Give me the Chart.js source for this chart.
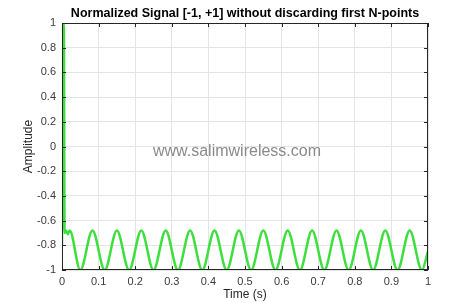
<!DOCTYPE html>
<html>
<head>
<meta charset="utf-8">
<script src="https://cdn.jsdelivr.net/npm/chart.js@4.4.1/dist/chart.umd.min.js"></script>
<style>
  html, body { margin: 0; padding: 0; background: #fff; }
  canvas { display: block; }
</style>
</head>
<body>
<canvas id="signalChart" width="474" height="303"></canvas>
<script>
// values (time in s, amplitude normalized)
const timeS = [0, 0.003, 0.005, 0.007, 0.011, 0.016, 0.021,
  0.05, 0.0833, 0.1167, 0.15, 0.1833, 0.2167, 0.25, 0.2833, 0.3167, 0.35,
  0.3833, 0.4167, 0.45, 0.4833, 0.5167, 0.55, 0.5833, 0.6167, 0.65, 0.6833,
  0.7167, 0.75, 0.7833, 0.8167, 0.85, 0.8833, 0.9167, 0.95, 0.9833, 1];
const amplitude = [-0.8, 1, 1, -0.7, -0.68, -0.71, -0.68,
  -1, -0.68, -1, -0.68, -1, -0.68, -1, -0.68, -1, -0.68,
  -1, -0.68, -1, -0.68, -1, -0.68, -1, -0.68, -1, -0.68,
  -1, -0.68, -1, -0.68, -1, -0.68, -1, -0.68, -1, -0.85];
const xTickLabels = ['0', '0.1', '0.2', '0.3', '0.4', '0.5', '0.6', '0.7', '0.8', '0.9', '1'];
const yTickLabels = ['-1', '-0.8', '-0.6', '-0.4', '-0.2', '0', '0.2', '0.4', '0.6', '0.8', '1'];
const chartTitle = 'Normalized Signal [-1, +1] without discarding first N-points';
const xTitle = 'Time (s)';
const yTitle = 'Amplitude';
const watermark = 'www.salimwireless.com';

const font = '"Liberation Sans", Arial, sans-serif';

// matlab style box, inward ticks, titles and the watermark
const decor = {
  id: 'decor',
  beforeDatasetsDraw(chart) {
    const { ctx } = chart;
    ctx.save();
    ctx.fillStyle = '#8a8a8a';
    ctx.font = '16px ' + font;
    ctx.textAlign = 'center';
    ctx.textBaseline = 'middle';
    ctx.fillText(watermark, 237, 152);
    ctx.restore();
  },
  afterDraw(chart) {
    const { ctx, chartArea: a, scales } = chart;
    ctx.save();
    ctx.strokeStyle = '#262626';
    ctx.lineWidth = 1;
    ctx.strokeRect(a.left + 0.5, a.top + 0.5, a.right - a.left - 1, a.bottom - a.top - 1);
    ctx.beginPath();
    scales.x.ticks.forEach((t) => {
      const px = Math.round(scales.x.getPixelForValue(t.value)) + 0.5;
      ctx.moveTo(px, a.bottom); ctx.lineTo(px, a.bottom - 4);
      ctx.moveTo(px, a.top); ctx.lineTo(px, a.top + 4);
    });
    scales.y.ticks.forEach((t) => {
      const py = Math.round(scales.y.getPixelForValue(t.value)) + 0.5;
      ctx.moveTo(a.left, py); ctx.lineTo(a.left + 4, py);
      ctx.moveTo(a.right, py); ctx.lineTo(a.right - 4, py);
    });
    ctx.stroke();

    ctx.fillStyle = '#000';
    ctx.font = 'bold 12.5px ' + font;
    ctx.textAlign = 'center';
    ctx.textBaseline = 'middle';
    ctx.fillText(chartTitle, (a.left + a.right) / 2, 14);

    ctx.fillStyle = '#262626';
    ctx.font = '12px ' + font;
    ctx.fillText(xTitle, (a.left + a.right) / 2, 295);
    ctx.translate(29, (a.top + a.bottom) / 2);
    ctx.rotate(-Math.PI / 2);
    ctx.fillText(yTitle, 0, 0);
    ctx.restore();
  }
};

new Chart(document.getElementById('signalChart').getContext('2d'), {
  type: 'line',
  data: {
    datasets: [{
      data: timeS.map((t, i) => ({ x: t, y: amplitude[i] })),
      borderColor: '#3ddf3d',
      borderWidth: 2.5,
      pointRadius: 0,
      cubicInterpolationMode: 'monotone',
      fill: false
    }]
  },
  options: {
    responsive: false,
    animation: false,
    layout: { padding: { top: 23, right: 46, bottom: 0, left: 0 } },
    plugins: { legend: { display: false }, tooltip: { enabled: false } },
    scales: {
      x: {
        type: 'linear',
        min: 0,
        max: 1,
        ticks: {
          stepSize: 0.1,
          padding: 5,
          color: '#3a3a3a',
          font: { family: font, size: 11 },
          maxRotation: 0,
          callback: (v, i) => xTickLabels[i]
        },
        grid: { color: '#e4e4e4', drawTicks: false },
        border: { display: false },
        afterFit: (s) => { s.height = 33; }
      },
      y: {
        min: -1,
        max: 1,
        ticks: {
          stepSize: 0.2,
          padding: 6,
          color: '#3a3a3a',
          font: { family: font, size: 11 },
          callback: (v, i) => yTickLabels[i]
        },
        grid: { color: '#e4e4e4', drawTicks: false },
        border: { display: false },
        afterFit: (s) => { s.width = 62; }
      }
    }
  },
  plugins: [decor]
});
</script>
</body>
</html>
